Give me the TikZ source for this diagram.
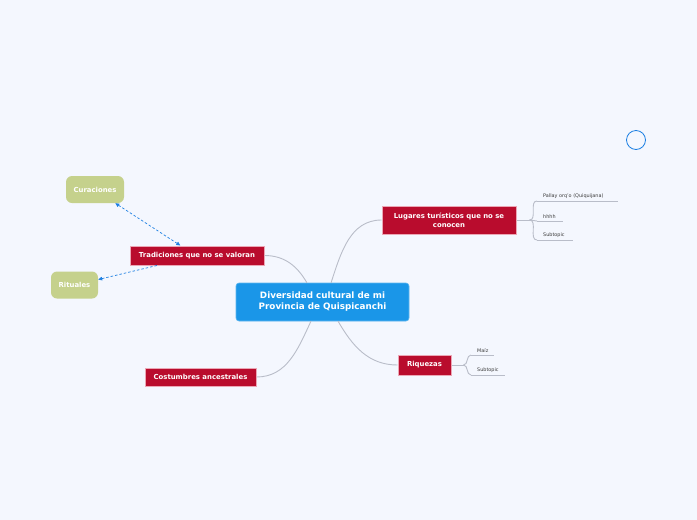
\documentclass[tikz,border=0pt]{standalone}
\usepackage{fontspec}
\setmainfont{DejaVu Sans}
\usetikzlibrary{arrows.meta}

\begin{document}
\begin{tikzpicture}[
    x=1pt, y=1pt,
    central/.style={
        draw=colCentralEdge, fill=colCentral, rounded corners=3pt, line width=0.6pt,
        minimum width=173pt, minimum height=38pt,
        align=center, text=white, font=\fontsize{8.8}{11}\selectfont\bfseries
    },
    topic/.style={
        draw=colTopicEdge, fill=colTopic, line width=1pt, minimum height=20pt,
        align=center, text=white, font=\fontsize{6.9}{9}\selectfont\bfseries
    },
    leaf/.style={
        fill=colLeaf, rounded corners=6pt, minimum height=27pt,
        align=center, text=white, font=\fontsize{6.9}{8}\selectfont\bfseries
    },
    subtopic/.style={
        anchor=south west, inner xsep=6pt, inner ysep=2pt,
        text=colSubText, font=\fontsize{4.9}{6}\selectfont
    },
    branch/.style={draw=colBranch, line width=0.9pt},
    underline/.style={draw=colBranch, line width=0.6pt},
    link/.style={
        draw=colLink, line width=0.7pt, dash pattern=on 2.5pt off 2pt,
        arrows={-Triangle[length=4pt, width=3.6pt]}
    }
]

% ============================
% COLOR DEFINITIONS
% ============================
\definecolor{colBg}{HTML}{F4F7FE}          % page
\definecolor{colCentral}{HTML}{1A96E8}     % blue
\definecolor{colCentralEdge}{HTML}{5FB6EE} % blue light
\definecolor{colTopic}{HTML}{B90C2D}       % red
\definecolor{colTopicEdge}{HTML}{EBA7B5}   % pink
\definecolor{colLeaf}{HTML}{C5D18C}        % green light
\definecolor{colBranch}{HTML}{B9BDC9}      % grey
\definecolor{colSubText}{HTML}{3C3C3C}     % dark grey
\definecolor{colLink}{HTML}{1C7FE2}        % blue link

% --- page ---
\fill[colBg] (0,0) rectangle (697,-520);

% ============================
% CENTRAL TOPIC
% ============================
\node[central] (centro) at (322.5,-302) {Diversidad cultural de mi\\Provincia de Quispicanchi};

% ============================
% MAIN TOPICS
% ============================
\node[topic, minimum width=134pt, minimum height=28pt] (lugares) at (449,-220) {Lugares turísticos que no se\\conocen};
\node[topic, minimum width=53pt] (riquezas) at (424.5,-365) {Riquezas};
\node[topic, minimum width=134pt, minimum height=19pt] (tradiciones) at (197,-255.5) {Tradiciones que no se valoran};
\node[topic, minimum width=111pt, minimum height=18pt] (costumbres) at (200.5,-377) {Costumbres ancestrales};

% --- floating topics ---
\node[leaf, minimum width=58pt] (curaciones) at (95,-189.5) {Curaciones};
\node[leaf, minimum width=47pt] (rituales) at (74.5,-285) {Rituales};

% --- marker ---
\node[draw=colLink, circle, line width=0.8pt, minimum size=19pt] (marca) at (636,-140) {};

% ============================
% SUBTOPICS
% ============================
\node[subtopic] (pallay) at (537,-201) {Pallay orq'o (Quiquijana)};
\node[subtopic] (hhhh) at (537,-221) {hhhh};
\node[subtopic] (subA) at (537,-240) {Subtopic};
\node[subtopic] (maiz) at (471,-355) {Maíz};
\node[subtopic] (subB) at (471,-375) {Subtopic};

\foreach \n/\len in {pallay/81, hhhh/26, subA/36, maiz/23, subB/34}
    \draw[underline] (\n.south west) -- ++(\len,0);

% ============================
% BRANCHES
% ============================
\draw[branch] (centro.66) to[out=72, in=180] (lugares.west);
\draw[branch] (centro.129) to[out=120, in=0] (tradiciones.east);
\draw[branch] (centro.-51) to[out=-60, in=180] (riquezas.west);
\draw[branch] (centro.-121) to[out=-115, in=0] (costumbres.east);

\draw[branch] (lugares.east) -- ++(13,0) coordinate (jLugares);
\draw[branch] (jLugares) to[out=0, in=180] (pallay.south west);
\draw[branch] (jLugares) -- (hhhh.south west);
\draw[branch] (jLugares) to[out=0, in=180] (subA.south west);

\draw[branch] (riquezas.east) -- ++(12,0) coordinate (jRiquezas);
\draw[branch] (jRiquezas) to[out=0, in=180] (maiz.south west);
\draw[branch] (jRiquezas) to[out=0, in=180] (subB.south west);

% ============================
% RELATIONSHIPS
% ============================
\draw[link, arrows={Triangle[length=4pt, width=3.6pt]-Triangle[length=4pt, width=3.6pt]}] (curaciones.-34) -- (tradiciones.149);
\draw[link] (tradiciones.194) -- (rituales.13);

\end{tikzpicture}
\end{document}
